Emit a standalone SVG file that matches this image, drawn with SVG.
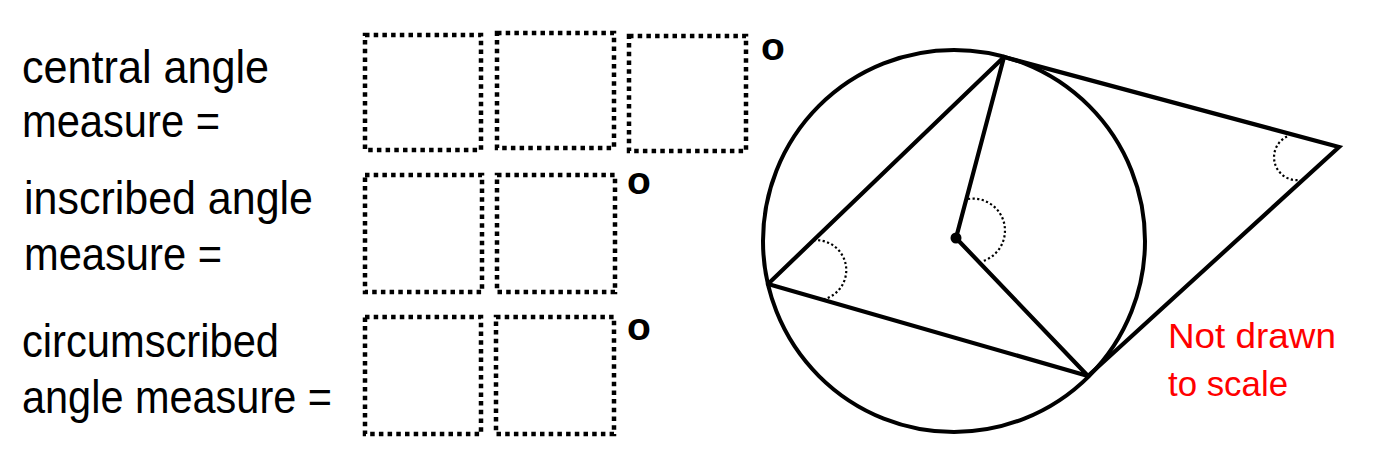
<svg xmlns="http://www.w3.org/2000/svg" width="1378" height="475" viewBox="0 0 1378 475">
<style>
.lbl{font-family:"Liberation Sans",Arial,sans-serif;font-size:47px;fill:#000}
.red{font-family:"Liberation Sans",Arial,sans-serif;font-size:35px;fill:#FF0000}
.deg{font-family:"Liberation Sans",Arial,sans-serif;font-size:39px;font-weight:bold;fill:#000;text-anchor:middle}
.box{fill:none;stroke:#000;stroke-width:4.5;stroke-dasharray:4.5 4.2}
.ln{fill:none;stroke:#000;stroke-width:4.2;stroke-linejoin:miter;stroke-linecap:round}
.arc{fill:none;stroke:#000;stroke-width:2.2;stroke-dasharray:2.2 2.4}
</style>
<rect width="1378" height="475" fill="#fff"/>
<g id="row-central">
<text class="lbl" x="22" y="83" textLength="247" lengthAdjust="spacingAndGlyphs">central angle</text>
<text class="lbl" x="22" y="137" textLength="198" lengthAdjust="spacingAndGlyphs">measure =</text>
<rect class="box" x="365" y="35" width="116" height="115"/>
<rect class="box" x="497" y="33" width="117" height="115"/>
<rect class="box" x="629" y="36" width="117" height="115"/>
<text class="deg" x="773" y="60">o</text>
</g>
<g id="row-inscribed">
<text class="lbl" x="24" y="214" textLength="289" lengthAdjust="spacingAndGlyphs">inscribed angle</text>
<text class="lbl" x="24" y="270" textLength="198" lengthAdjust="spacingAndGlyphs">measure =</text>
<rect class="box" x="365" y="175" width="117" height="117"/>
<rect class="box" x="497" y="175" width="118" height="117"/>
<text class="deg" x="639" y="194">o</text>
</g>
<g id="row-circumscribed">
<text class="lbl" x="22" y="357" textLength="257" lengthAdjust="spacingAndGlyphs">circumscribed</text>
<text class="lbl" x="22" y="413" textLength="310" lengthAdjust="spacingAndGlyphs">angle measure =</text>
<rect class="box" x="365" y="317" width="116" height="117"/>
<rect class="box" x="496" y="317" width="118" height="117"/>
<text class="deg" x="639" y="340">o</text>
</g>
<g id="circle">
<circle cx="954" cy="241" r="191" fill="none" stroke="#000" stroke-width="4"/>
<circle cx="956" cy="238" r="5.5" fill="#000"/>
</g>
<g id="connectors">
<line class="ln" x1="1004" y1="57" x2="768" y2="284"/>
<line class="ln" x1="768" y1="284" x2="1088" y2="376"/>
<line class="ln" x1="1004" y1="57" x2="956" y2="238"/>
<line class="ln" x1="956" y1="238" x2="1088" y2="376"/>
<polyline class="ln" points="1004,57 1339,147 1088,376"/>
</g>
<g id="angle-marks">
<path class="arc" d="M968 199 A32 32 0 0 1 983 261"/>
<path class="arc" d="M813.5 240.3 A30 30 0 0 1 822.1 299.6"/>
<path class="arc" d="M1287 136.5 A23 23 0 0 0 1300 180"/>
</g>
<g id="note">
<text class="red" x="1168" y="348" textLength="168" lengthAdjust="spacingAndGlyphs">Not drawn</text>
<text class="red" x="1168" y="396" textLength="120" lengthAdjust="spacingAndGlyphs">to scale</text>
</g>
</svg>
